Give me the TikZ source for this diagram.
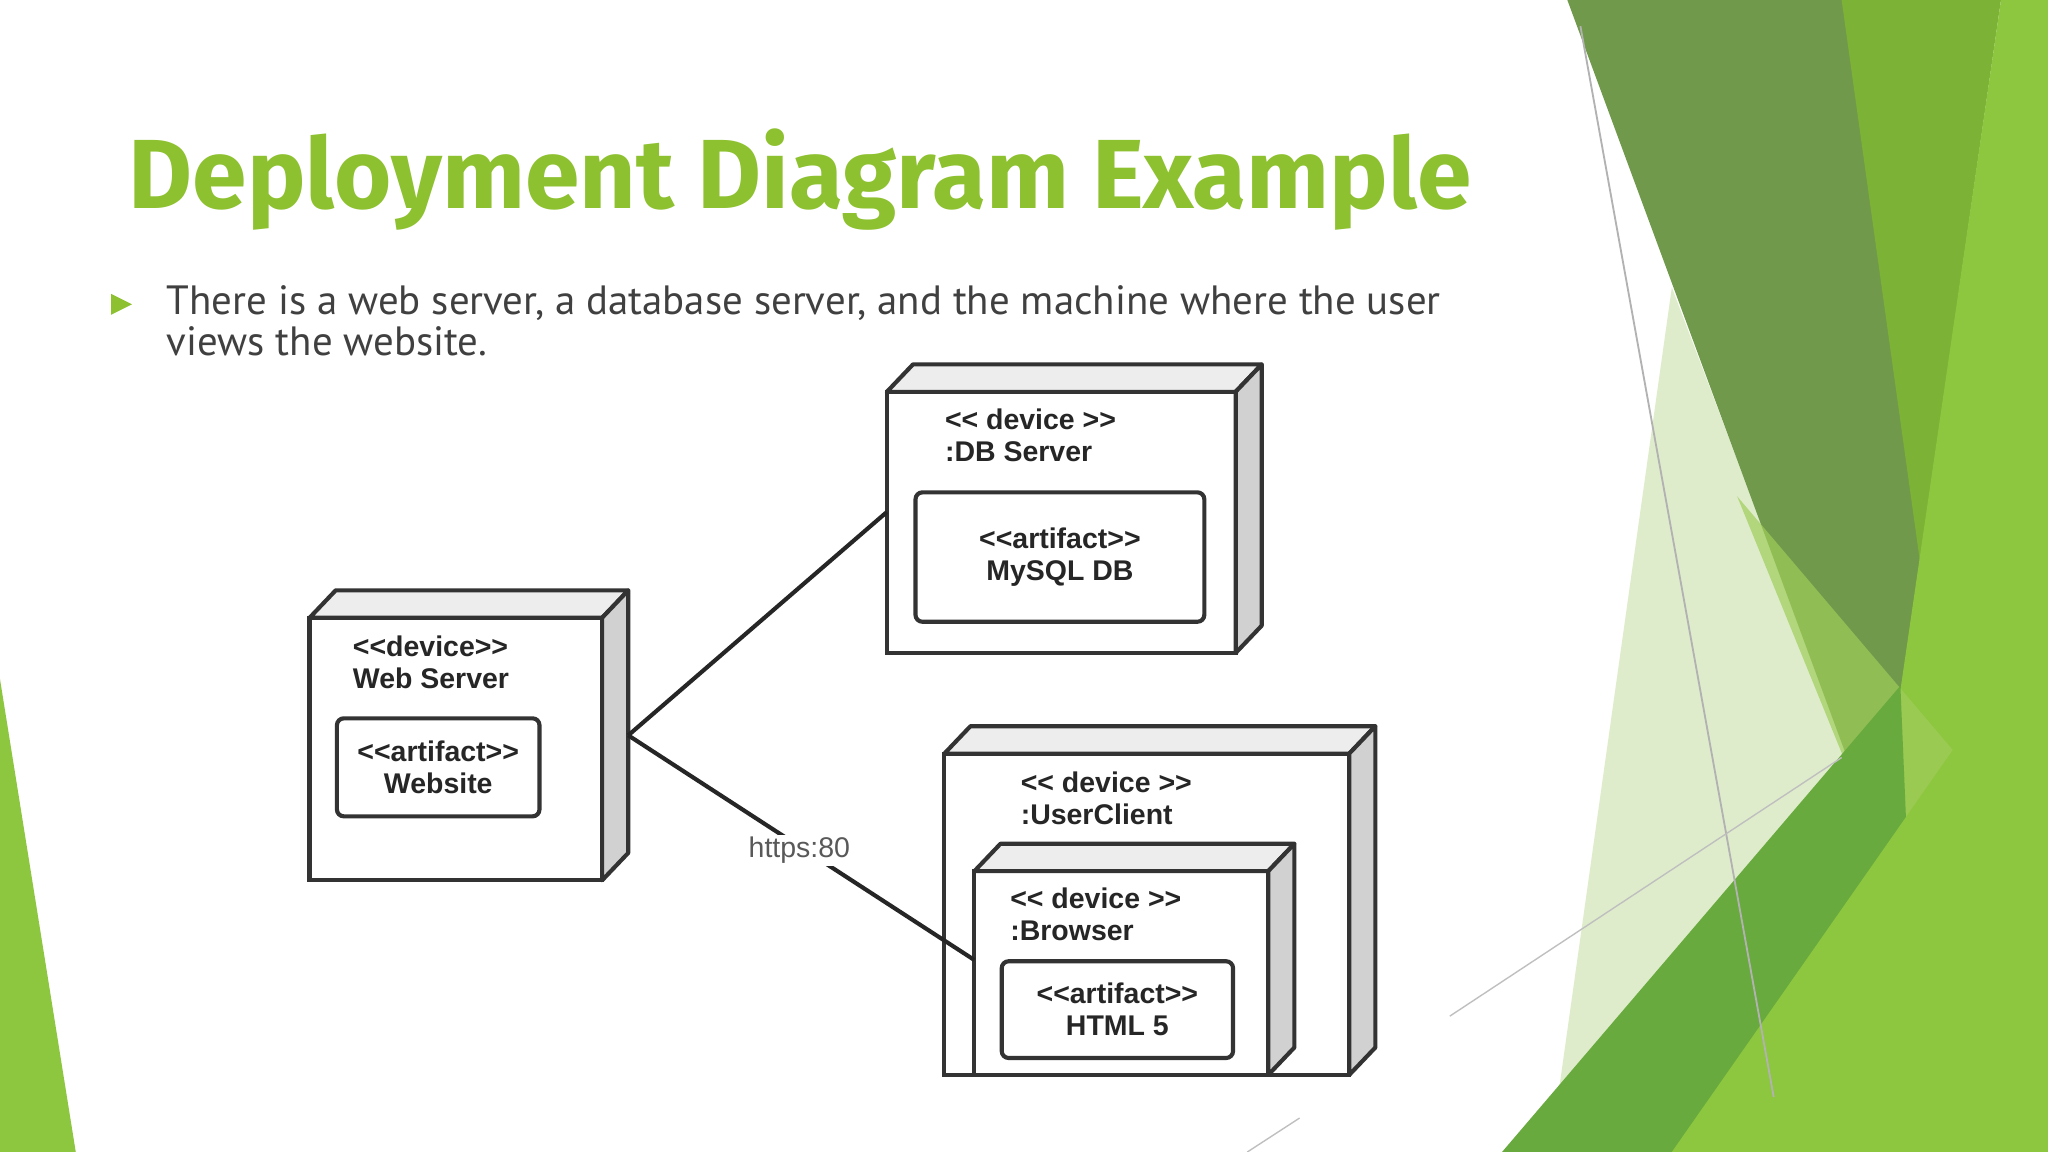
\documentclass[tikz,border=0pt]{standalone}
\usepackage{fontspec}
\setmainfont{Liberation Sans}
\newfontfamily\titlefont{Fira Sans}
\newfontfamily\bodyfont{PT Sans}
\begin{document}
\begin{tikzpicture}[x=0.01cm,y=-0.01cm,
  lbl/.style={font=\fontsize{6.2}{7}\selectfont\bfseries, text=black!85, align=left},
  art/.style={draw=black!80, line width=0.9pt, rounded corners=1.5pt, fill=white}]
\useasboundingbox (0,0) rectangle (1568,882);
\fill[white] (0,0) rectangle (1568,882);
% decorations
\fill[fill={rgb,255:red,214;green,232;blue,190}, opacity=0.8] (1280,220) -- (1420,590) -- (1200,860) -- (1190,860) -- cycle;
\fill[fill={rgb,255:red,113;green,153;blue,75}] (1200,0) -- (1420,0) -- (1475,420) -- (1440,650) -- cycle;
\fill[fill={rgb,255:red,124;green,178;blue,54}] (1410,0) -- (1532,0) -- (1470,430) -- cycle;
\fill[fill={rgb,255:red,141;green,198;blue,63}] (1532,0) -- (1568,0) -- (1568,882) -- (1420,882) -- (1430,700) -- cycle;
\fill[fill={rgb,255:red,160;green,205;blue,90}, opacity=0.7] (1330,380) -- (1440,650) -- (1500,580) -- cycle;
\fill[fill={rgb,255:red,104;green,170;blue,62}] (1150,882) -- (1455,525) -- (1470,882) -- cycle;
\fill[fill={rgb,255:red,141;green,198;blue,63}] (1280,882) -- (1568,470) -- (1568,882) -- cycle;
\fill[fill={rgb,255:red,141;green,198;blue,63}] (0,520) -- (58,882) -- (0,882) -- cycle;
\draw[gray!60, line width=0.4pt] (1210,20) -- (1358,840);
\draw[gray!50, line width=0.3pt] (1110,778) -- (1410,580);
\draw[gray!50, line width=0.3pt] (955,882) -- (995,856);
% title
\node[anchor=base west, inner sep=0, text={rgb,255:red,141;green,193;blue,47}, font=\titlefont\bfseries\fontsize{21.4}{24}\selectfont] (title) at (98,160) {Deployment Diagram Example};
\fill[fill={rgb,255:red,141;green,193;blue,47}] (85,225) -- (101,233) -- (85,241) -- cycle;
\node[anchor=base west, inner sep=0, text=black!75, font=\bodyfont\fontsize{8.9}{8.8}\selectfont, align=left] (bullet) at (127,272) {There is a web server, a database server, and the machine where the user\\views the website.};
\newcommand{\devnode}[5]{% name, x1,y1,x2,y2 (front face), depth 20
  \fill[white] (#2,#3) rectangle (#4,#5);
  \filldraw[fill=black!7, draw=black!80, line width=0.9pt, line join=round] (#2,#3) -- (#2+20,#3-21) -- (#4+20,#3-21) -- (#4,#3) -- cycle;
  \filldraw[fill=black!18, draw=black!80, line width=0.9pt, line join=round] (#4,#3) -- (#4+20,#3-21) -- (#4+20,#5-21) -- (#4,#5) -- cycle;
  \draw[black!80, line width=0.9pt] (#2,#3) rectangle (#4,#5);
  \coordinate (#1) at (#2,#3);
}
% Web Server
\devnode{ws}{237}{473}{461}{674}
\node[lbl] (wsl) at (330,507) {{<}{<}device{>}{>}\\Web Server};
\node[art, minimum width=1.55cm, minimum height=0.75cm] (website) at (335.5,587.5) {};
\node[lbl, align=center] at (website) {{<}{<}artifact{>}{>}\\Website};
% DB Server
\devnode{db}{679}{300}{946}{500}
\node[lbl] (dbl) at (789,333) {{<}{<} device {>}{>}\\:DB Server};
\node[art, minimum width=2.21cm, minimum height=0.99cm] (mysql) at (811.5,426.5) {};
\node[lbl, align=center] at (mysql) {{<}{<}artifact{>}{>}\\MySQL DB};
% UserClient
\devnode{uc}{723}{577}{1033}{823}
\node[lbl] (ucl) at (847,611) {{<}{<} device {>}{>}\\:UserClient};
\devnode{br}{746}{667}{971}{823}
\node[lbl] (brl) at (839,700) {{<}{<} device {>}{>}\\:Browser};
\node[art, minimum width=1.77cm, minimum height=0.74cm] (html) at (855.5,773) {};
\node[lbl, align=center] at (html) {{<}{<}artifact{>}{>}\\HTML 5};
% connectors
\coordinate (wsr) at (481,563);
\coordinate (dbl2) at (679,392);
\coordinate (brl2) at (746,735);
\draw[black!85, line width=0.9pt] (wsr) -- (dbl2);
\draw[black!85, line width=0.9pt] (wsr) -- (brl2);
\node[fill=white, inner sep=0.5pt, text=black!65, font=\fontsize{6.2}{7}\selectfont] (https) at (612,651) {https:80};
\end{tikzpicture}
\end{document}
